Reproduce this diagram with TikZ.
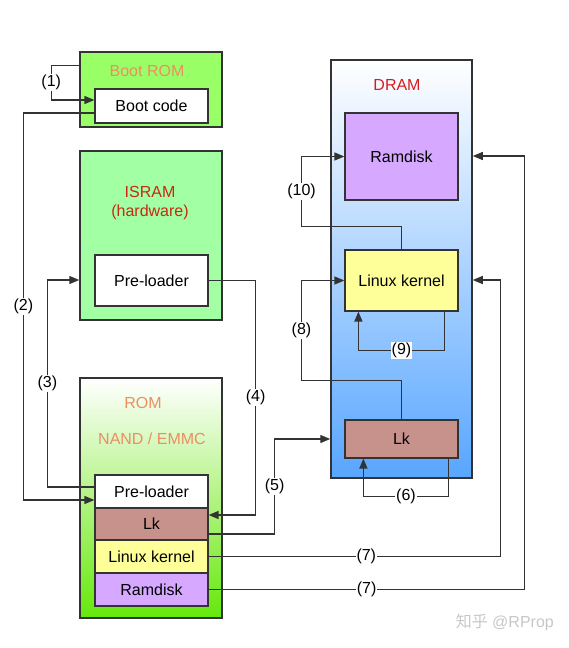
\documentclass[tikz,border=0pt]{standalone}
\usepackage{fontspec}
\setmainfont{Liberation Sans}
\newfontfamily\cjkfont{Noto Sans CJK SC}
\usetikzlibrary{arrows.meta}

\definecolor{linegray}{RGB}{51,51,51}
\definecolor{bootgreen}{RGB}{153,255,102}
\definecolor{sramgreen}{RGB}{163,255,163}
\definecolor{romgreen}{RGB}{102,232,10}
\definecolor{dramblue}{RGB}{88,166,255}
\definecolor{lkrose}{RGB}{200,146,140}
\definecolor{kernyellow}{RGB}{255,255,153}
\definecolor{diskviolet}{RGB}{214,168,255}
\definecolor{salmon}{RGB}{236,142,96}
\definecolor{brickred}{RGB}{200,40,20}
\definecolor{dramred}{RGB}{212,30,30}

\tikzset{
  region/.style={draw=linegray, line width=1.5pt, inner sep=0pt},
  part/.style={draw=linegray, line width=1.2pt, inner sep=0pt, minimum width=113pt},
  link/.style={draw=linegray, line width=1.4pt, -{Triangle[length=10pt,width=8pt]}},
  tag/.style={fill=white, inner sep=1pt, text=black},
}

\begin{document}
\begin{tikzpicture}[x=1pt, y=-1pt, font=\fontsize{16}{19}\selectfont]
  \useasboundingbox (0,0) rectangle (568,648);

  % memories
  \node[region, fill=bootgreen, minimum width=142pt, minimum height=75pt] (bootrom) at (151,89.5) {};
  \node[region, fill=sramgreen, minimum width=142pt, minimum height=169pt] (isram) at (151,235.5) {};
  \node[region, top color=white, bottom color=romgreen, minimum width=142pt, minimum height=240pt] (rom) at (151,498) {};
  \node[region, top color=white, bottom color=dramblue, minimum width=141pt, minimum height=418pt] (dram) at (401.5,269) {};

  \node[text=salmon] (bootromtitle) at (147,71) {Boot ROM};
  \node[text=brickred, align=center] (isramtitle) at (150,203) {ISRAM\\(hardware)};
  \node[text=salmon] (romtitle) at (143,403) {ROM};
  \node[text=salmon] (nandtitle) at (152,439) {NAND / EMMC};
  \node[text=dramred] (dramtitle) at (397,85) {DRAM};

  % images
  \node[part, fill=white, minimum height=34pt] (bootcode) at (151.5,106) {Boot code};
  \node[part, fill=white, minimum height=51pt] (srampre) at (151.5,280.5) {Pre-loader};

  \node[part, fill=white, minimum height=33pt] (rompre) at (151.5,491.5) {Pre-loader};
  \node[part, fill=lkrose, minimum height=32pt] (romlk) at (151.5,524) {Lk};
  \node[part, fill=kernyellow, minimum height=33pt] (romkernel) at (151.5,556.5) {Linux kernel};
  \node[part, fill=diskviolet, minimum height=33pt] (romdisk) at (151.5,589.5) {Ramdisk};

  \node[part, fill=diskviolet, minimum height=87pt] (dramdisk) at (401.5,156.5) {Ramdisk};
  \node[part, fill=kernyellow, minimum height=61pt] (dramkernel) at (401.5,280.5) {Linux kernel};
  \node[part, fill=lkrose, minimum height=38pt] (dramlk) at (401.5,439) {Lk};

  % boot flow
  \draw[link] ([yshift=-14pt]bootrom.north west) -- ++(-28,0) |- node[tag, pos=0.25] {(1)} ([yshift=6pt]bootcode.west);
  \draw[link] ([yshift=-7pt]bootcode.west) -- ++(-71,0) |- node[tag, pos=0.25] {(2)} ([yshift=-8.5pt]rompre.west);
  \draw[link] ([yshift=4.5pt]rompre.west) -- ++(-47,0) |- node[tag, pos=0.25] {(3)} ([yshift=-44.5pt]isram.west);
  \draw[link] (srampre.east) -- ++(47,0) |- node[tag, pos=0.25] {(4)} ([yshift=9pt]romlk.east);
  \draw[link] ([yshift=-10pt]romlk.east) -- ++(66,0) |- node[tag, pos=0.25] {(5)} ([yshift=-170pt]dram.west);
  \draw[link] ([xshift=-10pt]dramlk.south east) -- ++(0,38) -| node[tag, pos=0.25] {(6)} ([xshift=19pt]dramlk.south west);
  \draw[link] (romkernel.east) -- node[tag, pos=0.54] {(7)} ++(292,0) |- ([yshift=-11pt]dram.east);
  \draw[link] (romdisk.east) -- node[tag, pos=0.5] {(7)} ++(316,0) |- ([yshift=113pt]dram.east);
  \draw[link] (dramlk.north) -- ++(0,-39) -- ++(-100,0) |- node[tag, pos=0.25] {(8)} (dramkernel.west);
  \draw[link] ([xshift=-14pt]dramkernel.south east) -- ++(0,39) -| node[tag, pos=0.25] {(9)} ([xshift=14pt]dramkernel.south west);
  \draw[link] (dramkernel.north) -- ++(0,-23) -- ++(-100,0) |- node[tag, pos=0.25] {(10)} (dramdisk.west);

  \node[text=black!22, anchor=east, inner sep=0pt] (mark) at (554,622) {{\cjkfont 知乎} @RProp};
\end{tikzpicture}
\end{document}
